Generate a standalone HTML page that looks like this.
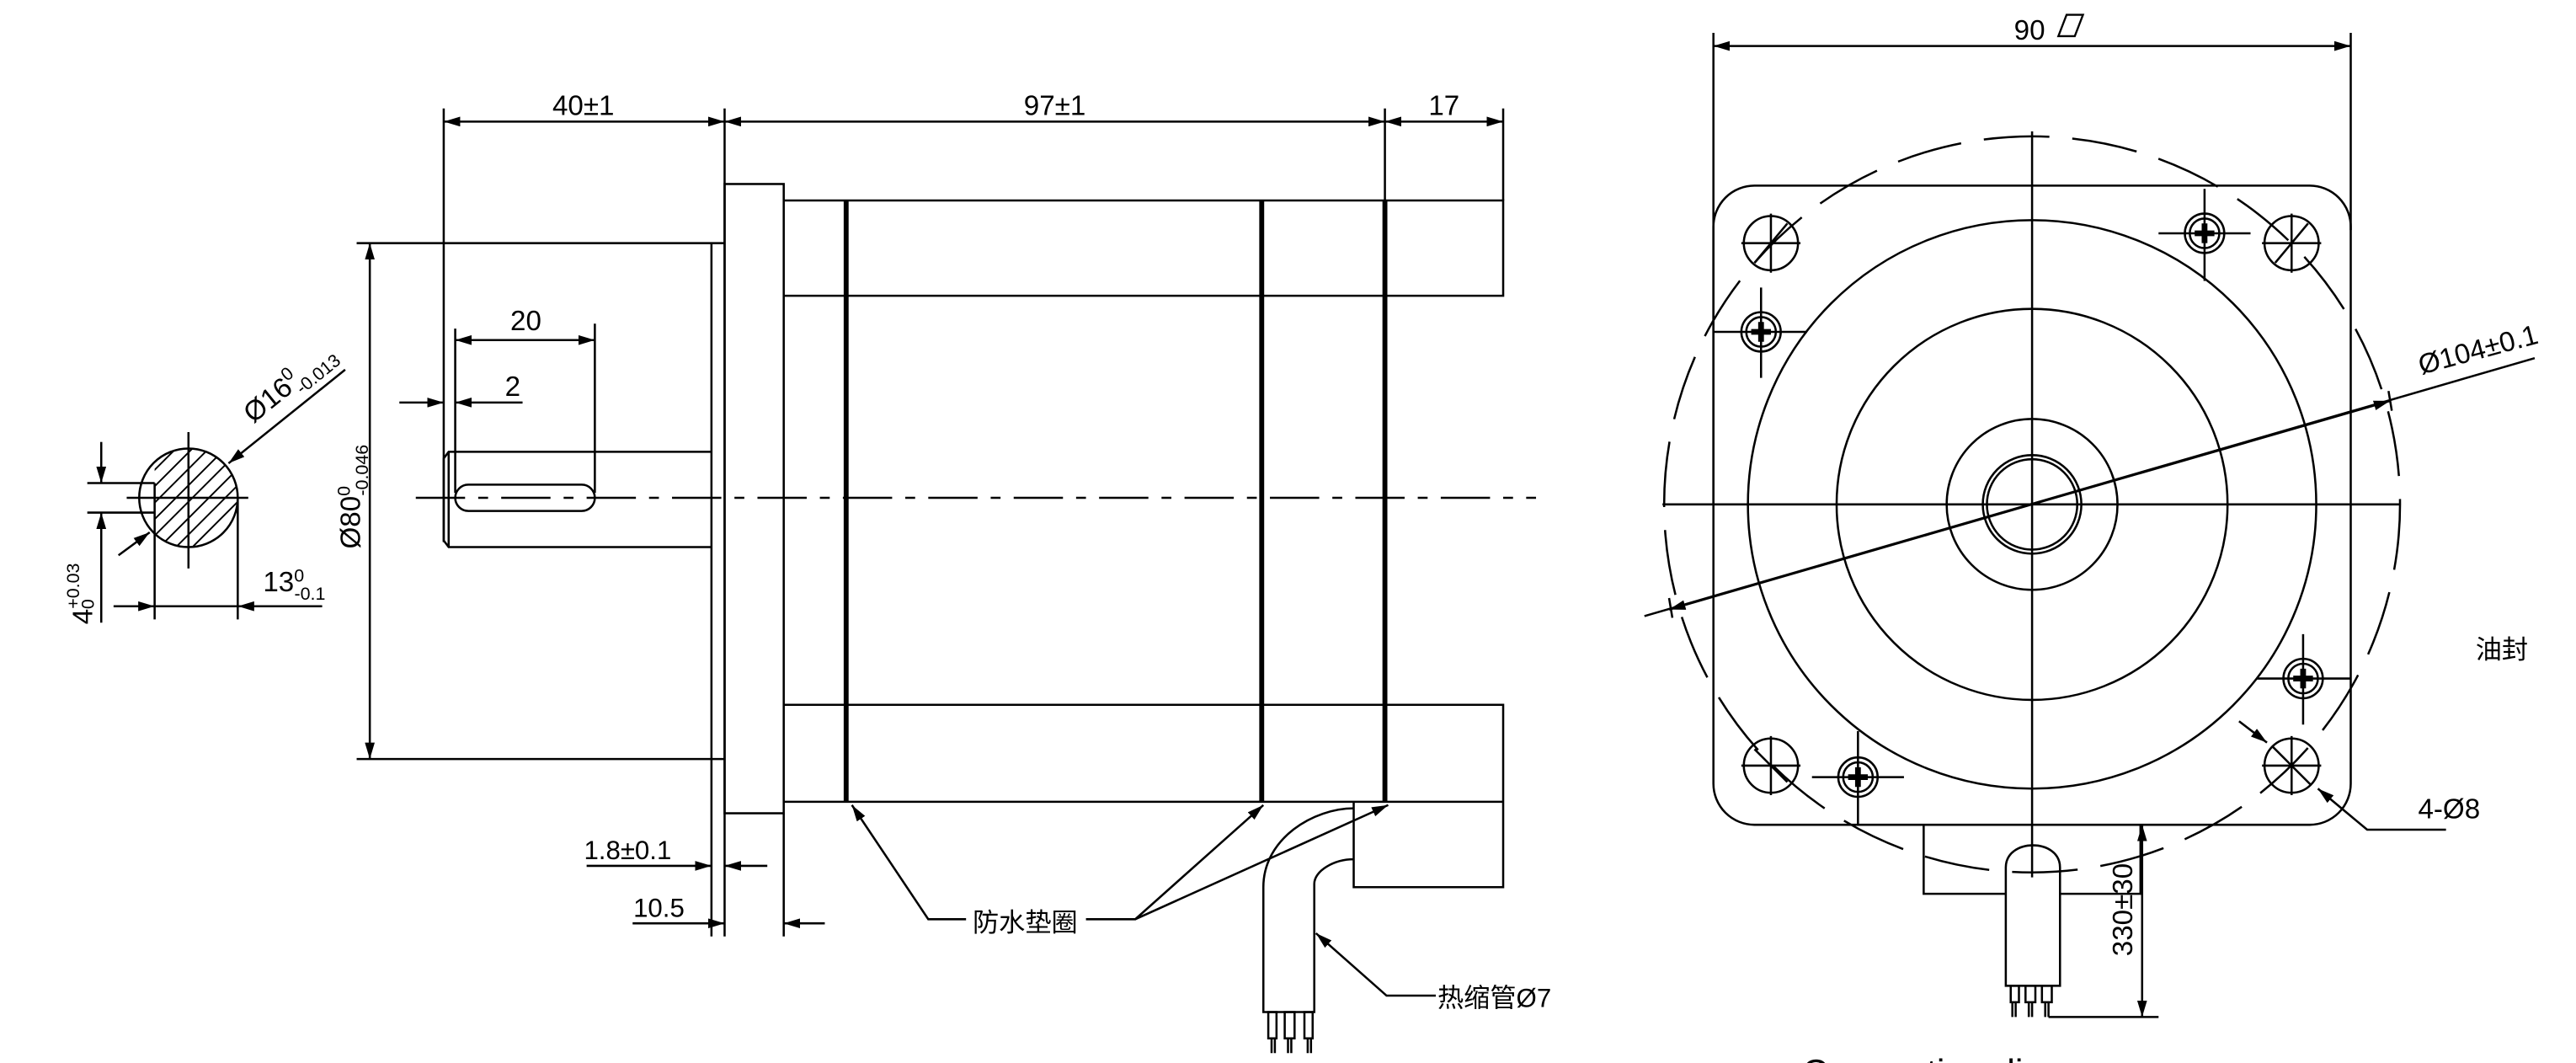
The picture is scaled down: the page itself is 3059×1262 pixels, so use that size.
<!DOCTYPE html>
<html><head><meta charset="utf-8"><style>
html,body{margin:0;padding:0;background:#fff;}
svg{display:block;}
text{font-family:"Liberation Sans","Noto Sans CJK SC",sans-serif;fill:#000;}
</style></head><body>
<svg width="3059" height="1262" viewBox="0 0 1568 647" xmlns="http://www.w3.org/2000/svg">
<defs>
<marker id="a" viewBox="0 0 10 6" refX="10" refY="3" markerWidth="10" markerHeight="6" orient="auto-start-reverse" markerUnits="userSpaceOnUse"><path d="M0,0 L10,3 L0,6 z" fill="#000"/></marker>
<clipPath id="cc"><circle cx="114.6" cy="303" r="30"/></clipPath>
<clipPath id="sec"><rect x="94" y="260" width="60" height="90"/></clipPath>
</defs>
<g fill="none" stroke="#000" stroke-width="1.3">
<!-- top dims -->
<line x1="270" y1="66" x2="270" y2="330"/>
<line x1="441" y1="66" x2="441" y2="570"/>
<line x1="843" y1="66" x2="843" y2="122"/>
<line x1="915" y1="66" x2="915" y2="122"/>
<line x1="270" y1="74" x2="441" y2="74" marker-start="url(#a)" marker-end="url(#a)"/>
<line x1="441" y1="74" x2="843" y2="74" marker-start="url(#a)" marker-end="url(#a)"/>
<line x1="843" y1="74" x2="915" y2="74" marker-start="url(#a)" marker-end="url(#a)"/>
<!-- flange -->
<rect x="441" y="112" width="36" height="383"/>
<!-- body -->
<polyline points="477,122 915,122 915,180 477,180"/>
<polyline points="477,429 915,429 915,540 824,540 824,488"/>
<line x1="477" y1="488" x2="915" y2="488"/>
<!-- pilot & shaft -->
<line x1="217" y1="148" x2="441" y2="148"/>
<line x1="217" y1="462" x2="441" y2="462"/>
<line x1="433" y1="148" x2="433" y2="570"/>
<line x1="477" y1="495" x2="477" y2="570"/>
<polyline points="433,275 273,275 270,279 270,329 273,333 433,333"/>
<line x1="273" y1="275" x2="273" y2="333"/>
<rect x="277" y="295" width="85" height="16" rx="8"/>
<!-- centerline -->
<line x1="253" y1="303" x2="935" y2="303" stroke-dasharray="30,8,6,8"/>
<!-- dim 20 / 2 -->
<line x1="277" y1="200" x2="277" y2="300"/>
<line x1="362" y1="197" x2="362" y2="300"/>
<line x1="277" y1="207" x2="362" y2="207" marker-start="url(#a)" marker-end="url(#a)"/>
<line x1="243" y1="245" x2="270" y2="245" marker-end="url(#a)"/>
<line x1="318" y1="245" x2="277" y2="245" marker-end="url(#a)"/>
<!-- dim 80 -->
<line x1="225" y1="148" x2="225" y2="462" marker-start="url(#a)" marker-end="url(#a)"/>
<!-- section -->
<circle cx="114.6" cy="303" r="30"/>
<g clip-path="url(#cc)"><g clip-path="url(#sec)"><g stroke-width="1">
<path d="M50,350 L150,250 M60,350 L160,250 M70,350 L170,250 M80,350 L180,250 M90,350 L190,250 M100,350 L200,250 M40,350 L140,250 M30,350 L130,250 M20,350 L120,250 M10,350 L110,250"/>
</g></g></g>
<line x1="94" y1="294" x2="94" y2="377"/>
<line x1="144.6" y1="303" x2="144.6" y2="377"/>
<line x1="53" y1="294" x2="94" y2="294"/>
<line x1="53" y1="312" x2="94" y2="312"/>
<line x1="77" y1="303" x2="151" y2="303"/>
<line x1="114.6" y1="263" x2="114.6" y2="346"/>
<line x1="61.5" y1="269" x2="61.5" y2="294" marker-end="url(#a)"/>
<line x1="61.5" y1="379" x2="61.5" y2="312" marker-end="url(#a)"/>
<line x1="69" y1="369" x2="94" y2="369" marker-end="url(#a)"/>
<line x1="196" y1="369" x2="144.6" y2="369" marker-end="url(#a)"/>
<line x1="94" y1="369" x2="144.6" y2="369"/>
<line x1="210" y1="225" x2="139" y2="282" marker-end="url(#a)"/>
<line x1="72" y1="338" x2="91" y2="324" marker-end="url(#a)"/>
<!-- thin dims bottom -->
<line x1="357" y1="527" x2="433" y2="527" marker-end="url(#a)"/>
<line x1="467" y1="527" x2="441" y2="527" marker-end="url(#a)"/>
<line x1="385" y1="562" x2="441" y2="562" marker-end="url(#a)"/>
<line x1="502" y1="562" x2="477" y2="562" marker-end="url(#a)"/>
<!-- leaders -->
<polyline points="588,559.5 565,559.5 518.5,490" marker-end="url(#a)"/>
<polyline points="661,559.5 691,559.5 769,490" marker-end="url(#a)"/>
<line x1="691" y1="559.5" x2="845" y2="490" marker-end="url(#a)"/>
<polyline points="874,606 844,606 801,568" marker-end="url(#a)"/>
<!-- cable -->
<path d="M824,492 C800,492 769,510 769,540 L769,616 L800,616 L800,538 C800,530 812,523 824,523"/>
<rect x="772" y="616" width="5" height="16"/><rect x="782" y="616" width="6" height="16"/><rect x="794" y="616" width="5" height="16"/>
<path d="M774,632 V641 M776,632 V641 M784,632 V641 M786,632 V641 M796,632 V641 M798,632 V641"/>
</g>
<g fill="none" stroke="#000" stroke-width="3">
<line x1="515" y1="122" x2="515" y2="488"/>
<line x1="768" y1="122" x2="768" y2="488"/>
<line x1="843" y1="122" x2="843" y2="488"/>
</g>
<!-- left texts -->
<text x="355" y="70" font-size="17" text-anchor="middle">40±1</text>
<text x="642" y="70" font-size="17" text-anchor="middle">97±1</text>
<text x="879" y="70" font-size="17" text-anchor="middle">17</text>
<text x="320" y="201" font-size="17" text-anchor="middle">20</text>
<text x="312" y="241" font-size="17" text-anchor="middle">2</text>
<text x="382" y="523" font-size="16" text-anchor="middle">1.8±0.1</text>
<text x="401" y="558" font-size="16" text-anchor="middle">10.5</text>
<text x="592" y="567" font-size="16">防水垫圈</text>
<text x="875" y="613" font-size="16">热缩管Ø7</text>
<text transform="translate(219,334) rotate(-90)" font-size="17">Ø80<tspan font-size="11" dy="-6">0</tspan><tspan font-size="11" dx="-6" dy="11">-0.046</tspan></text>
<text transform="translate(154,258) rotate(-39)" font-size="17">Ø16<tspan font-size="11" dy="-7">0</tspan><tspan font-size="11" dx="-4" dy="12">-0.013</tspan></text>
<text transform="translate(56,380) rotate(-90)" font-size="17">4<tspan font-size="11" dy="-8">+0.03</tspan><tspan font-size="11" dx="-28" dy="9">0</tspan></text>
<text x="160" y="360" font-size="17">13<tspan font-size="11" dy="-6">0</tspan><tspan font-size="11" dx="-6" dy="11">-0.1</tspan></text>

<!-- RIGHT VIEW -->
<g fill="none" stroke="#000" stroke-width="1.3">
<line x1="1043" y1="20" x2="1043" y2="307"/>
<line x1="1431" y1="20" x2="1431" y2="140"/>
<line x1="1043" y1="28" x2="1431" y2="28" marker-start="url(#a)" marker-end="url(#a)"/>
<rect x="1043" y="113" width="388" height="389" rx="25"/>
<circle cx="1237" cy="307" r="224" stroke-dasharray="40,14"/>
<circle cx="1237" cy="307" r="173"/>
<circle cx="1237" cy="307" r="119"/>
<circle cx="1237" cy="307" r="52"/>
<circle cx="1237" cy="307" r="30"/>
<circle cx="1237" cy="307" r="27.5"/>
<line x1="1012" y1="307" x2="1461" y2="307"/>
<line x1="1237" y1="80" x2="1237" y2="534"/>
<g>
<circle cx="1078" cy="148" r="16.5"/><line x1="1060" y1="148" x2="1096" y2="148"/><line x1="1078" y1="130" x2="1078" y2="166"/><line x1="1068" y1="160" x2="1088" y2="136"/>
<circle cx="1395" cy="148" r="16.5"/><line x1="1377" y1="148" x2="1413" y2="148"/><line x1="1395" y1="130" x2="1395" y2="166"/><line x1="1385" y1="160" x2="1405" y2="136"/>
<circle cx="1078" cy="466" r="16.5"/><line x1="1060" y1="466" x2="1096" y2="466"/><line x1="1078" y1="448" x2="1078" y2="484"/><line x1="1068" y1="456" x2="1088" y2="476"/>
<circle cx="1395" cy="466" r="16.5"/><line x1="1377" y1="466" x2="1413" y2="466"/><line x1="1395" y1="448" x2="1395" y2="484"/><line x1="1383" y1="454" x2="1407" y2="478"/>
</g>
<g>
<circle cx="1342" cy="142" r="12"/><circle cx="1342" cy="142" r="9"/><line x1="1314" y1="142" x2="1370" y2="142"/><line x1="1342" y1="115" x2="1342" y2="171"/>
<circle cx="1072" cy="202" r="12"/><circle cx="1072" cy="202" r="9"/><line x1="1043" y1="202" x2="1100" y2="202"/><line x1="1072" y1="175" x2="1072" y2="230"/>
<circle cx="1402" cy="413" r="12"/><circle cx="1402" cy="413" r="9"/><line x1="1374" y1="413" x2="1431" y2="413"/><line x1="1402" y1="386" x2="1402" y2="441"/>
<circle cx="1131" cy="473" r="12"/><circle cx="1131" cy="473" r="9"/><line x1="1103" y1="473" x2="1159" y2="473"/><line x1="1131" y1="445" x2="1131" y2="502"/>
</g>
<polyline points="1171,502 1171,544 1221,544"/>
<polyline points="1254,544 1303,544 1303,502"/>
<path d="M1221,600 L1221,528 C1221,510 1254,510 1254,528 L1254,600 Z"/>
<rect x="1224" y="600" width="5" height="10"/><rect x="1233" y="600" width="6" height="10"/><rect x="1243" y="600" width="6" height="10"/>
<path d="M1225,610 V619 M1227,610 V619 M1235,610 V619 M1237,610 V619 M1245,610 V619 M1247,610 V619"/>
<line x1="1247" y1="619" x2="1314" y2="619"/>
<line x1="1304" y1="619" x2="1304" y2="502" marker-start="url(#a)" marker-end="url(#a)"/>
<line x1="1001" y1="375" x2="1543" y2="218"/>
<line x1="1237" y1="307" x2="1016" y2="371" marker-end="url(#a)"/>
<line x1="1237" y1="307" x2="1455" y2="244" marker-end="url(#a)"/>
<line x1="1016" y1="364" x2="1018" y2="376"/>
<line x1="1454" y1="238" x2="1456" y2="250"/>
<polyline points="1489,505 1441,505 1411,480" marker-end="url(#a)"/>
<line x1="1363" y1="439" x2="1380" y2="452" marker-end="url(#a)"/>
</g>
<!-- bold crosses on screws -->
<g stroke="#000" stroke-width="3.5" fill="none">
<path d="M1336,142 H1348 M1342,136 V148"/>
<path d="M1066,202 H1078 M1072,196 V208"/>
<path d="M1396,413 H1408 M1402,407 V419"/>
<path d="M1125,473 H1137 M1131,467 V479"/>
</g>
<text x="1226" y="24" font-size="17">90</text>
<path d="M1253,22 L1258,9 L1268,9 L1263,22 Z" fill="none" stroke="#000" stroke-width="1.2"/>
<text transform="translate(1474,228) rotate(-15)" font-size="17">Ø104±0.1</text>
<text x="1472" y="498" font-size="17">4-Ø8</text>
<text x="1507" y="401" font-size="16">油封</text>
<text transform="translate(1298,582) rotate(-90)" font-size="17">330±30</text>
<text x="1097" y="660" font-size="22">Connection diagram</text>
</svg>
</body></html>
